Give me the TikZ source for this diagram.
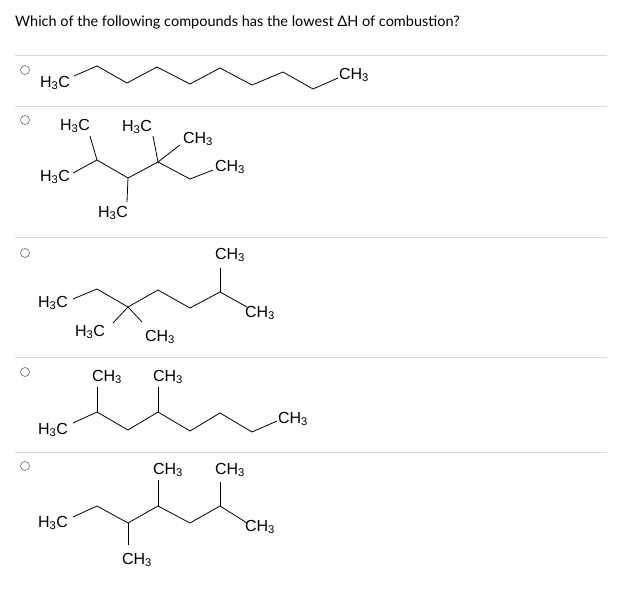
\documentclass[tikz,border=0pt]{standalone}
\usepackage{fontspec}
\setmainfont{Liberation Sans}
\newfontfamily\titlefont{Lato}
\begin{document}
\begin{tikzpicture}[x=1pt,y=-1pt,
 lbl/.style={inner sep=0pt,font=\fontsize{16}{16}\selectfont},
 bond/.style={line width=0.8pt},
 sep/.style={draw=black!15,line width=0.8pt},
 radio/.style={draw=black!60,line width=0.6pt}]
\useasboundingbox (0,0) rectangle (621,591);
\node[anchor=west,inner sep=0pt,font=\titlefont\fontsize{14.5}{14.5}\selectfont] (title) at (15,22) {Which of the following compounds has the lowest ΔH of combustion?};
\foreach \y in {55,106,237,357,452} \draw[sep] (15,\y) -- (607,\y);
\foreach \y in {70,120,253,372,466} \draw[radio] (25,\y) circle (4.5);
\newcommand{\mH}{H\textsubscript{3}C}
\newcommand{\mC}{CH\textsubscript{3}}
% mol1
\node[lbl] (a1) at (55,83) {\mH};
\node[lbl] (a2) at (354,75) {\mC};
\draw[bond] (74,76)--(97,66)--(127,83)--(157,67)--(190,84)--(220,68)--(252,85)--(283,72)--(313,89)--(338,78);
% mol2
\node[lbl] (b1) at (75,126) {\mH};
\node[lbl] (b2) at (55,177) {\mH};
\node[lbl] (b3) at (113,213) {\mH};
\node[lbl] (b4) at (137,127) {\mH};
\node[lbl] (b5) at (198,139) {\mC};
\node[lbl] (b6) at (230,167) {\mC};
\draw[bond] (73,173)--(97,160)--(128,178)--(158,162)--(190,179)--(213,170);
\draw[bond] (90,136)--(97,160);
\draw[bond] (128,178)--(127,202);
\draw[bond] (153,136)--(158,162);
\draw[bond] (180,145)--(158,162);
% mol3
\node[lbl] (c1) at (53,303) {\mH};
\node[lbl] (c2) at (90,332) {\mH};
\node[lbl] (c3) at (160,337) {\mC};
\node[lbl] (c4) at (230,255) {\mC};
\node[lbl] (c5) at (260,313) {\mC};
\draw[bond] (73,299)--(97,289)--(128,307)--(158,290)--(190,308)--(220,292)--(247,307);
\draw[bond] (128,307)--(113,323);
\draw[bond] (128,307)--(142,322);
\draw[bond] (220,292)--(220,268);
% mol4
\node[lbl] (d1) at (53,430) {\mH};
\node[lbl] (d2) at (107,377) {\mC};
\node[lbl] (d3) at (168,377) {\mC};
\node[lbl] (d4) at (293,419) {\mC};
\draw[bond] (73,423)--(97,412)--(128,430)--(158,412)--(190,431)--(220,413)--(252,432)--(277,421);
\draw[bond] (97,412)--(97,387);
\draw[bond] (158,412)--(158,387);
% mol5
\node[lbl] (e1) at (53,523) {\mH};
\node[lbl] (e2) at (137,560) {\mC};
\node[lbl] (e3) at (168,470) {\mC};
\node[lbl] (e4) at (230,470) {\mC};
\node[lbl] (e5) at (260,527) {\mC};
\draw[bond] (73,517)--(97,506)--(128,523)--(158,506)--(190,523)--(220,506)--(247,523);
\draw[bond] (128,523)--(128,545);
\draw[bond] (158,506)--(158,480);
\draw[bond] (220,506)--(220,482);
\end{tikzpicture}
\end{document}
